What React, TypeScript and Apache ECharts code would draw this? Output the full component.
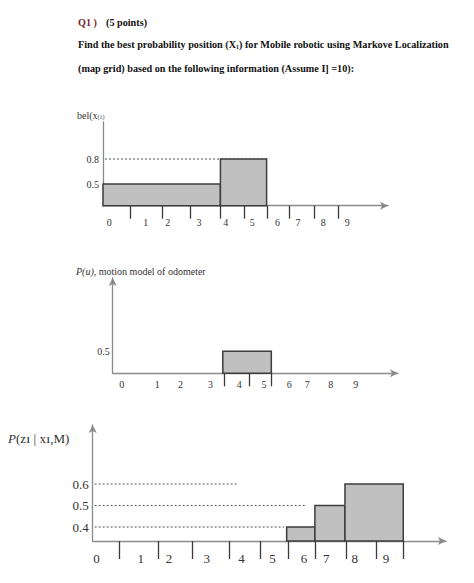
import React, { useEffect, useRef } from "react";
import * as echarts from "echarts";

// ---------- shared ----------
const cellLabels = ["0", "1", "2", "3", "4", "5", "6", "7", "8", "9"];

// ---------- chart 1 : bel(x(1)) ----------
const belTickPositions = [0.97, 2.09, 3.05, 4.12, 4.96, 5.75, 6.54, 7.41, 8.25];
const belLabelPositions = [0.22, 1.5, 2.27, 3.37, 4.31, 5.24, 6.12, 6.84, 7.73, 8.57];
// [xStart, xEnd, probability]
const belBars = [
  [0, 4.12, 0.5],
  [4.12, 5.74, 0.8],
];
const belYLabels = [0.5, 0.8];
// [level, xEnd]
const belGuides = [[0.8, 5.79]];

// ---------- chart 2 : P(u) motion model ----------
const motionTickPositions = [3.9, 4.8, 5.55];
const motionLabelPositions = [0.32, 1.56, 2.38, 3.43, 4.44, 5.3, 6.19, 6.82, 7.64, 8.52];
const motionBars = [[3.86, 5.56, 0.5]];
const motionYLabels = [0.5];

// ---------- chart 3 : P(z1 | x1, M) ----------
const sensorTickPositions = [0.74, 1.86, 2.83, 3.86, 4.74, 5.54, 6.29, 7.17, 8.02, 8.79];
const sensorLabelPositions = [0.11, 1.36, 2.16, 3.23, 4.21, 5.09, 5.98, 6.61, 7.42, 8.3];
const sensorBars = [
  [5.49, 6.29, 0.4],
  [6.29, 7.14, 0.5],
  [7.14, 8.79, 0.6],
];
const sensorYLabels = [0.4, 0.5, 0.6];
const sensorGuides = [
  [0.6, 4.08],
  [0.5, 6.01],
  [0.4, 5.42],
];

const SERIF = "Liberation Serif";

function nearestLabel(positions: number[], labels: string[]) {
  return (v: number) => {
    let best = 0;
    let d = Infinity;
    positions.forEach((p, i) => {
      const dd = Math.abs(p - v);
      if (dd < d) {
        d = dd;
        best = i;
      }
    });
    return labels[best];
  };
}

function xAxisFor(
  grid: number,
  tickPos: number[],
  labelPos: number[],
  tickLen: number,
  labelMargin: number,
  fontSize: number
) {
  return {
    type: "value",
    gridIndex: grid,
    min: 0,
    max: 10,
    axisLine: {
      show: true,
      symbol: ["none", "arrow"],
      symbolSize: [6, 8],
      lineStyle: { color: "#8a8a8a", width: 1.3 },
    },
    axisTick: {
      show: true,
      customValues: tickPos,
      length: tickLen,
      lineStyle: { color: "#3a3a3a", width: 1.3 },
    },
    axisLabel: {
      show: true,
      customValues: labelPos,
      margin: labelMargin,
      fontFamily: SERIF,
      fontSize,
      color: "#333",
      formatter: nearestLabel(labelPos, cellLabels),
    },
    splitLine: { show: false },
  };
}

function yAxisFor(
  grid: number,
  min: number,
  max: number,
  labels: number[],
  arrow: boolean,
  margin: number,
  fontSize: number
) {
  return {
    type: "value",
    gridIndex: grid,
    min,
    max,
    axisLine: {
      show: true,
      symbol: arrow ? ["none", "arrow"] : ["none", "none"],
      symbolSize: [6, 8],
      lineStyle: { color: "#8a8a8a", width: 1.3 },
    },
    axisTick: { show: false },
    axisLabel: {
      show: true,
      customValues: labels,
      margin,
      fontFamily: SERIF,
      fontSize,
      color: "#333",
      formatter: (v: number) => v.toFixed(1),
    },
    splitLine: { show: false },
  };
}

function barSeries(idx: number, data: number[][], yMin: number) {
  return {
    type: "custom",
    xAxisIndex: idx,
    yAxisIndex: idx,
    clip: false,
    z: 3,
    data,
    encode: { x: [0, 1], y: 2 },
    renderItem: (_params: any, api: any) => {
      const p0 = api.coord([api.value(0), yMin]);
      const p1 = api.coord([api.value(1), api.value(2)]);
      return {
        type: "rect",
        shape: {
          x: p0[0],
          y: p1[1],
          width: p1[0] - p0[0],
          height: p0[1] - p1[1],
        },
        style: { fill: "#c0c0c0", stroke: "#3c3c3c", lineWidth: 1.5 },
      };
    },
  };
}

function guideSeries(idx: number, data: number[][]) {
  return {
    type: "custom",
    xAxisIndex: idx,
    yAxisIndex: idx,
    clip: false,
    z: 2,
    data,
    encode: { x: 1, y: 0 },
    renderItem: (_params: any, api: any) => {
      const a = api.coord([0, api.value(0)]);
      const b = api.coord([api.value(1), api.value(0)]);
      return {
        type: "line",
        shape: { x1: a[0] + 2, y1: a[1], x2: b[0], y2: b[1] },
        style: { stroke: "#555", lineWidth: 1, lineDash: [2, 2] },
      };
    },
  };
}

export default function App() {
  const ref = useRef<HTMLDivElement>(null);

  useEffect(() => {
    if (!ref.current) return;
    const chart = echarts.init(ref.current, undefined, { renderer: "svg" });

    const headFont = { fontFamily: SERIF, fontWeight: "bold", fontSize: 10.2, fill: "#111" };

    chart.setOption({
      animation: false,
      backgroundColor: "#ffffff",
      textStyle: { fontFamily: SERIF },
      grid: [
        { left: 103, top: 122, width: 285, height: 83.7 },
        { left: 112.7, top: 278, width: 285.3, height: 95.3 },
        { left: 92.7, top: 425, width: 353.3, height: 116 },
      ],
      xAxis: [
        xAxisFor(0, belTickPositions, belLabelPositions, 13, 12, 10),
        xAxisFor(1, motionTickPositions, motionLabelPositions, 13, 6, 10),
        xAxisFor(2, sensorTickPositions, sensorLabelPositions, 18, 11, 13),
      ],
      yAxis: [
        yAxisFor(0, 0.24, 1.245, belYLabels, false, 4, 10),
        yAxisFor(1, 0.24, 1.366, motionYLabels, true, 3, 10),
        yAxisFor(2, 0.335, 0.875, sensorYLabels, true, 4, 13),
      ],
      series: [
        guideSeries(0, belGuides),
        barSeries(0, belBars, 0.24),
        barSeries(1, motionBars, 0.24),
        guideSeries(2, sensorGuides),
        barSeries(2, sensorBars, 0.335),
      ],
      graphic: [
        {
          type: "text",
          x: 78,
          y: 22,
          style: { ...headFont, text: "Q1 )", fill: "#7b1f2b", verticalAlign: "middle" },
        },
        {
          type: "text",
          x: 106,
          y: 22,
          style: { ...headFont, text: "(5 points)", verticalAlign: "middle" },
        },
        {
          type: "text",
          x: 78,
          y: 44.5,
          style: {
            ...headFont,
            verticalAlign: "middle",
            text: "Find the best probability position (X{s|1}) for Mobile robotic using Markove Localization",
            rich: { s: { fontSize: 6, fontWeight: "bold", fontFamily: SERIF, fill: "#111", padding: [4, 0, 0, 0] } },
          },
        },
        {
          type: "text",
          x: 78,
          y: 68.5,
          style: {
            ...headFont,
            verticalAlign: "middle",
            text: "(map grid) based on the following information (Assume I] =10):",
          },
        },
        {
          type: "text",
          x: 77,
          y: 115,
          style: {
            text: "bel(x{s|(1)}",
            fontFamily: SERIF,
            fontSize: 10,
            fill: "#333",
            verticalAlign: "middle",
            rich: { s: { fontSize: 6, fontFamily: SERIF, fill: "#333", padding: [4, 0, 0, 0] } },
          },
        },
        {
          type: "text",
          x: 76,
          y: 271,
          style: {
            text: "{i|P(u)}, motion model of odometer",
            fontFamily: SERIF,
            fontSize: 10,
            fill: "#333",
            verticalAlign: "middle",
            rich: { i: { fontSize: 10, fontStyle: "italic", fontFamily: SERIF, fill: "#333" } },
          },
        },
        {
          type: "text",
          x: 8,
          y: 438.5,
          style: {
            text: "{i|P}(z{s|1} | x{s|1},M)",
            fontFamily: SERIF,
            fontSize: 13,
            fill: "#333",
            verticalAlign: "middle",
            rich: {
              i: { fontSize: 13, fontStyle: "italic", fontFamily: SERIF, fill: "#333" },
              s: { fontSize: 8.5, fontWeight: "bold", fontFamily: SERIF, fill: "#333", padding: [3, 0, 0, 0] },
            },
          },
        },
      ],
    });

    return () => chart.dispose();
  }, []);

  return (
    <div
      ref={ref}
      style={{ position: "absolute", left: 0, top: 0, width: 474, height: 583 }}
    />
  );
}
